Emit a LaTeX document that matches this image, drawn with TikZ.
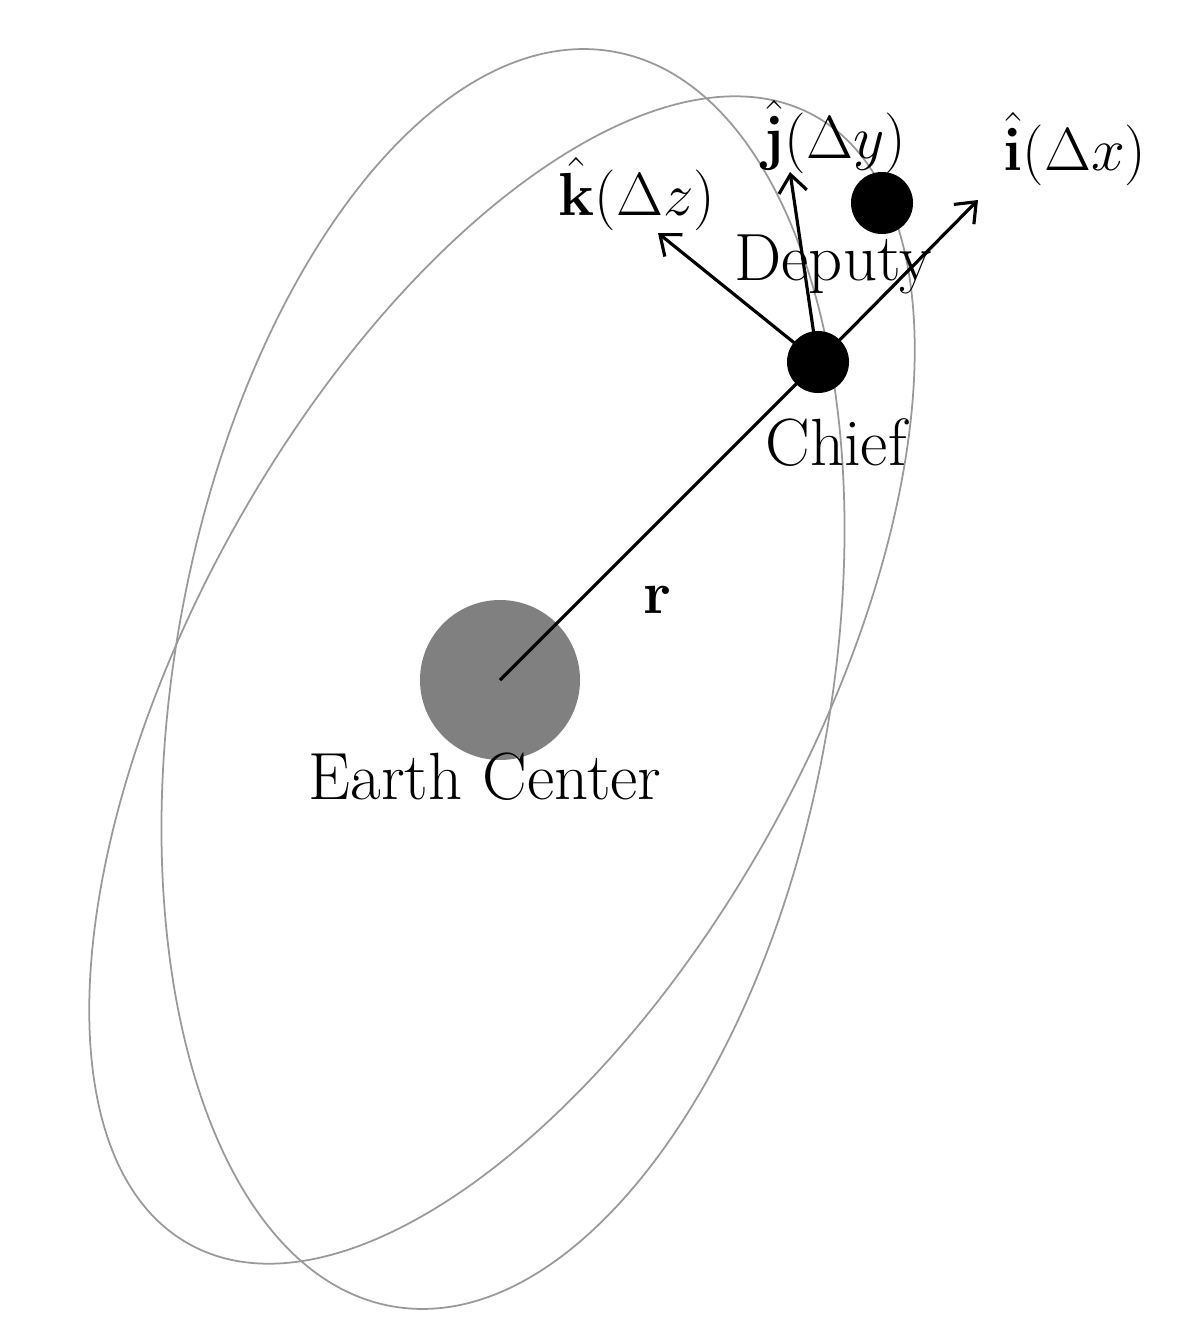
\documentclass[tikz,border=0pt]{standalone}
\usetikzlibrary{arrows.meta}
\begin{document}
\begin{tikzpicture}[x=0.01cm,y=-0.01cm,
  orbit/.style={draw=black!40,line width=0.5pt},
  vec/.style={line width=0.9pt,-{Straight Barb[length=5pt,width=8pt]}},
  lbl/.style={font=\fontsize{19}{23}\selectfont,inner sep=0pt}]
\useasboundingbox (0,0) rectangle (1183,1330);
\draw[orbit,rotate around={-10:(503,679)}] (503,679) ellipse [x radius=328, y radius=637];
\draw[orbit,rotate around={-29:(502,680)}] (502,680) ellipse [x radius=308, y radius=645];
\fill[black!50] (500,680) circle [radius=80];
\coordinate (ec) at (500,680);
\node[circle,fill=black,minimum size=0.62cm,inner sep=0pt] (chief) at (818,362) {};
\node[circle,fill=black,minimum size=0.62cm,inner sep=0pt] (deputy) at (882,203) {};
\coordinate (ti) at (978,200);
\coordinate (tk) at (658,233);
\coordinate (tj) at (790,172);
\draw[line width=0.9pt] (ec) -- (chief.center);
\draw[vec] (chief.center) -- (ti);
\draw[vec] (chief.center) -- (tk);
\draw[vec] (chief.center) -- (tj);
\node[lbl] (le) at (485,777) {Earth Center};
\node[lbl] (lc) at (836,443) {Chief};
\node[lbl] (ld) at (833,264) {Deputy};
\node[lbl] (lr) at (657,600) {$\mathbf{r}$};
\node[lbl] (lk) at (637,194) {$\hat{\mathbf{k}}(\Delta z)$};
\node[lbl] (lj) at (835,137) {$\hat{\mathbf{j}}(\Delta y)$};
\node[lbl] (li) at (1075,149) {$\hat{\mathbf{i}}(\Delta x)$};
\end{tikzpicture}
\end{document}
